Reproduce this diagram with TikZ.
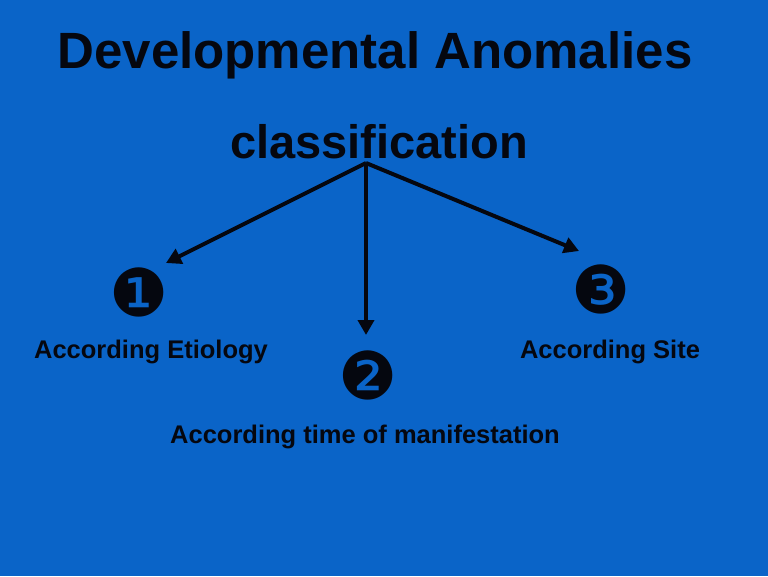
\documentclass[tikz,border=0pt]{standalone}
\usepackage{fontspec}
\setmainfont{Liberation Sans}
\newfontfamily\dejafont{DejaVu Sans}
\usetikzlibrary{arrows.meta}
\definecolor{bg}{HTML}{0A64C8}
\definecolor{ink}{HTML}{05070F}
\begin{document}
\begin{tikzpicture}[x=1pt,y=-1pt,
  txt/.style={text=ink,font=\bfseries,inner sep=0pt},
  num/.style={text=ink,font=\dejafont\fontsize{66}{70}\selectfont,inner sep=0pt},
  lab/.style={txt,font=\bfseries\fontsize{25.5}{28}\selectfont},
  arr/.style={draw=ink,line width=4pt,-{Triangle[length=15pt,width=16pt]}}]
\fill[bg] (0,0) rectangle (768,576);
\useasboundingbox (0,0) rectangle (768,576);
\node[txt,font=\bfseries\fontsize{51}{56}\selectfont] (title) at (375,55) {Developmental Anomalies};
\node[txt,font=\bfseries\fontsize{47}{52}\selectfont] (cls) at (379,142) {classification};
\coordinate (o) at (366,163);
\node[num] (n1) at (139,292) {❶};
\node[num] (n2) at (368,375) {❷};
\node[num] (n3) at (601,289) {❸};
\coordinate (e1) at (166,263);
\coordinate (e2) at (366,335);
\coordinate (e3) at (579,251);
\draw[arr] (o) -- (e1);
\draw[arr] (o) -- (e2);
\draw[arr] (o) -- (e3);
\node[lab] (l1) at (151,352) {According Etiology};
\node[lab] (l3) at (610,352) {According Site};
\node[lab] (l2) at (365,437) {According time of manifestation};
\end{tikzpicture}
\end{document}
